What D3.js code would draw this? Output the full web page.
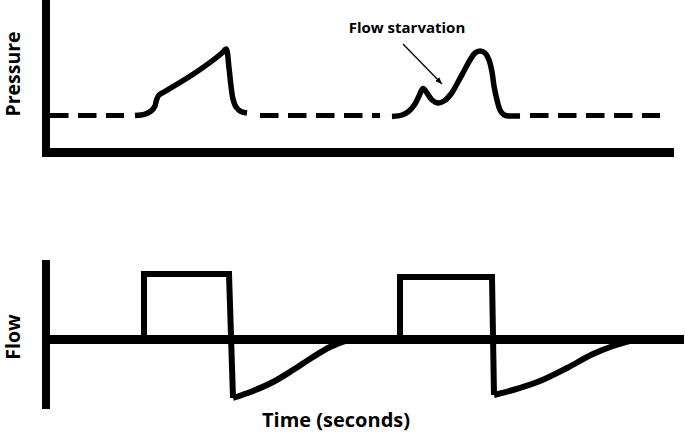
<!DOCTYPE html>
<html><head><meta charset="utf-8">
<script src="https://cdn.jsdelivr.net/npm/d3@7"></script>
<style>
html,body{margin:0;padding:0;background:#fff;}
svg{display:block;}
text{font-family:"Open Sans","DejaVu Sans",sans-serif;font-weight:700;fill:#000;}
</style></head>
<body>
<svg id="chart" width="685" height="434"></svg>
<script>
// ---- data (time in s, pressure and flow in arbitrary units) ----
const timeDomain = [0, 16];
const pressureDomain = [0, 25];
const flowDomain = [-80, 80];

const peepLevel = 6.1;
const peepDashedSegments = [[0.1, 1.95], [5.35, 8.35], [12.1, 15.35]];

const pressureBreath1 = [
  [2.225, 6.08], [2.475, 6.33], [2.625, 6.83], [2.725, 7.67], [2.7625, 8.67],
  [2.825, 9.5], [2.95, 10.0], [3.725, 13.17], [4.4, 16.5], [4.5, 17.17],
  [4.575, 14.0], [4.625, 11.0], [4.675, 8.83], [4.75, 7.5], [4.875, 6.75], [5.025, 6.5]
];
const pressureBreath2 = [
  [8.65, 5.92], [8.9, 6.17], [9.075, 6.83], [9.225, 8.0], [9.325, 9.33], [9.425, 10.58],
  [9.525, 9.83], [9.65, 8.67], [9.8, 8.17], [9.95, 8.5], [10.125, 9.67], [10.3, 11.67],
  [10.45, 13.5], [10.6, 15.33], [10.725, 16.5], [10.85, 16.83], [10.975, 16.5],
  [11.075, 15.33], [11.15, 13.33], [11.2, 11.0], [11.275, 8.67], [11.35, 7.0],
  [11.45, 6.17], [11.6, 6.0], [11.85, 6.0]
];

const flowSquare1 = [[2.45, 0], [2.45, 65], [4.575, 65], [4.675, -59]];
const flowDecay1 = [[4.675, -59], [5.175, -52], [5.675, -43], [6.175, -31], [6.675, -18], [7.1, -8], [7.475, -2], [7.725, 0]];
const flowSquare2 = [[8.85, 0], [8.85, 62], [11.15, 62], [11.2, -56]];
const flowDecay2 = [[11.2, -56], [11.675, -51], [12.35, -42], [13.025, -29], [13.675, -15], [14.175, -7], [14.6, -2], [14.9, 0]];

const annotationText = "Flow starvation";
const annotationAnchor = [9.0, 19.83];
const annotationArrow = [[8.925, 18.0], [9.9, 11.33]];

const pressureAxisTitle = "Pressure";
const flowAxisTitle = "Flow";
const timeAxisTitle = "Time (seconds)";

// ---- drawing ----
const svg = d3.select("#chart");
const x = d3.scaleLinear().domain(timeDomain).range([46, 686]);
const yP = d3.scaleLinear().domain(pressureDomain).range([152, 2]);
const yF = d3.scaleLinear().domain(flowDomain).range([419, 259]);

// pressure axes
const gP = svg.append("g");
gP.append("line").attr("x1", x(0)).attr("x2", x(0)).attr("y1", yP(25.35)).attr("y2", yP(-0.75))
  .attr("stroke", "#000").attr("stroke-width", 8);
gP.append("line").attr("x1", x(-0.1)).attr("x2", x(15.7)).attr("y1", yP(-0.1)).attr("y2", yP(-0.1))
  .attr("stroke", "#000").attr("stroke-width", 9);

// PEEP dashes
gP.selectAll("line.peep").data(peepDashedSegments).join("line").attr("class", "peep")
  .attr("x1", d => x(d[0])).attr("x2", d => x(d[1]))
  .attr("y1", yP(peepLevel)).attr("y2", yP(peepLevel))
  .attr("stroke", "#000").attr("stroke-width", 5).attr("stroke-dasharray", "18.5,9.5");

const pLine = d3.line().x(d => x(d[0])).y(d => yP(d[1])).curve(d3.curveCatmullRom.alpha(0.5));
[pressureBreath1, pressureBreath2].forEach(b => {
  gP.append("path").attr("d", pLine(b)).attr("fill", "none").attr("stroke", "#000")
    .attr("stroke-width", 5.5).attr("stroke-linejoin", "round");
});

// annotation
svg.append("defs").append("marker").attr("id", "ah").attr("viewBox", "0 0 10 10")
  .attr("refX", 10).attr("refY", 5).attr("markerWidth", 7).attr("markerHeight", 7)
  .attr("markerUnits", "userSpaceOnUse").attr("orient", "auto")
  .append("path").attr("d", "M0,1 L10,5 L0,9 Z").attr("fill", "#000");
gP.append("line")
  .attr("x1", x(annotationArrow[0][0])).attr("y1", yP(annotationArrow[0][1]))
  .attr("x2", x(annotationArrow[1][0])).attr("y2", yP(annotationArrow[1][1]))
  .attr("stroke", "#000").attr("stroke-width", 1.3).attr("marker-end", "url(#ah)");
gP.append("text").attr("x", x(annotationAnchor[0]) + 1).attr("y", yP(annotationAnchor[1]))
  .attr("text-anchor", "middle").attr("font-size", 15).attr("font-weight", 600).text(annotationText);

// flow axes
const gF = svg.append("g");
gF.append("line").attr("x1", x(0)).attr("x2", x(0)).attr("y1", yF(79)).attr("y2", yF(-70))
  .attr("stroke", "#000").attr("stroke-width", 8);
gF.append("line").attr("x1", x(-0.1)).attr("x2", x(15.95)).attr("y1", yF(-0.5)).attr("y2", yF(-0.5))
  .attr("stroke", "#000").attr("stroke-width", 9);

const fLin = d3.line().x(d => x(d[0])).y(d => yF(d[1]));
const fCurve = d3.line().x(d => x(d[0])).y(d => yF(d[1])).curve(d3.curveMonotoneX);
[flowSquare1, flowSquare2].forEach(b => {
  gF.append("path").attr("d", fLin(b)).attr("fill", "none").attr("stroke", "#000")
    .attr("stroke-width", 6).attr("stroke-linejoin", "miter");
});
[flowDecay1, flowDecay2].forEach(b => {
  gF.append("path").attr("d", fCurve(b)).attr("fill", "none").attr("stroke", "#000")
    .attr("stroke-width", 6);
});

// titles
svg.append("text").attr("transform", "translate(20,74) rotate(-90)")
  .attr("text-anchor", "middle").attr("font-size", 19.5).text(pressureAxisTitle);
svg.append("text").attr("transform", "translate(20,337) rotate(-90)")
  .attr("text-anchor", "middle").attr("font-size", 19.5).text(flowAxisTitle);
svg.append("text").attr("x", 336).attr("y", 427)
  .attr("text-anchor", "middle").attr("font-size", 20).text(timeAxisTitle);
</script>
</body></html>
